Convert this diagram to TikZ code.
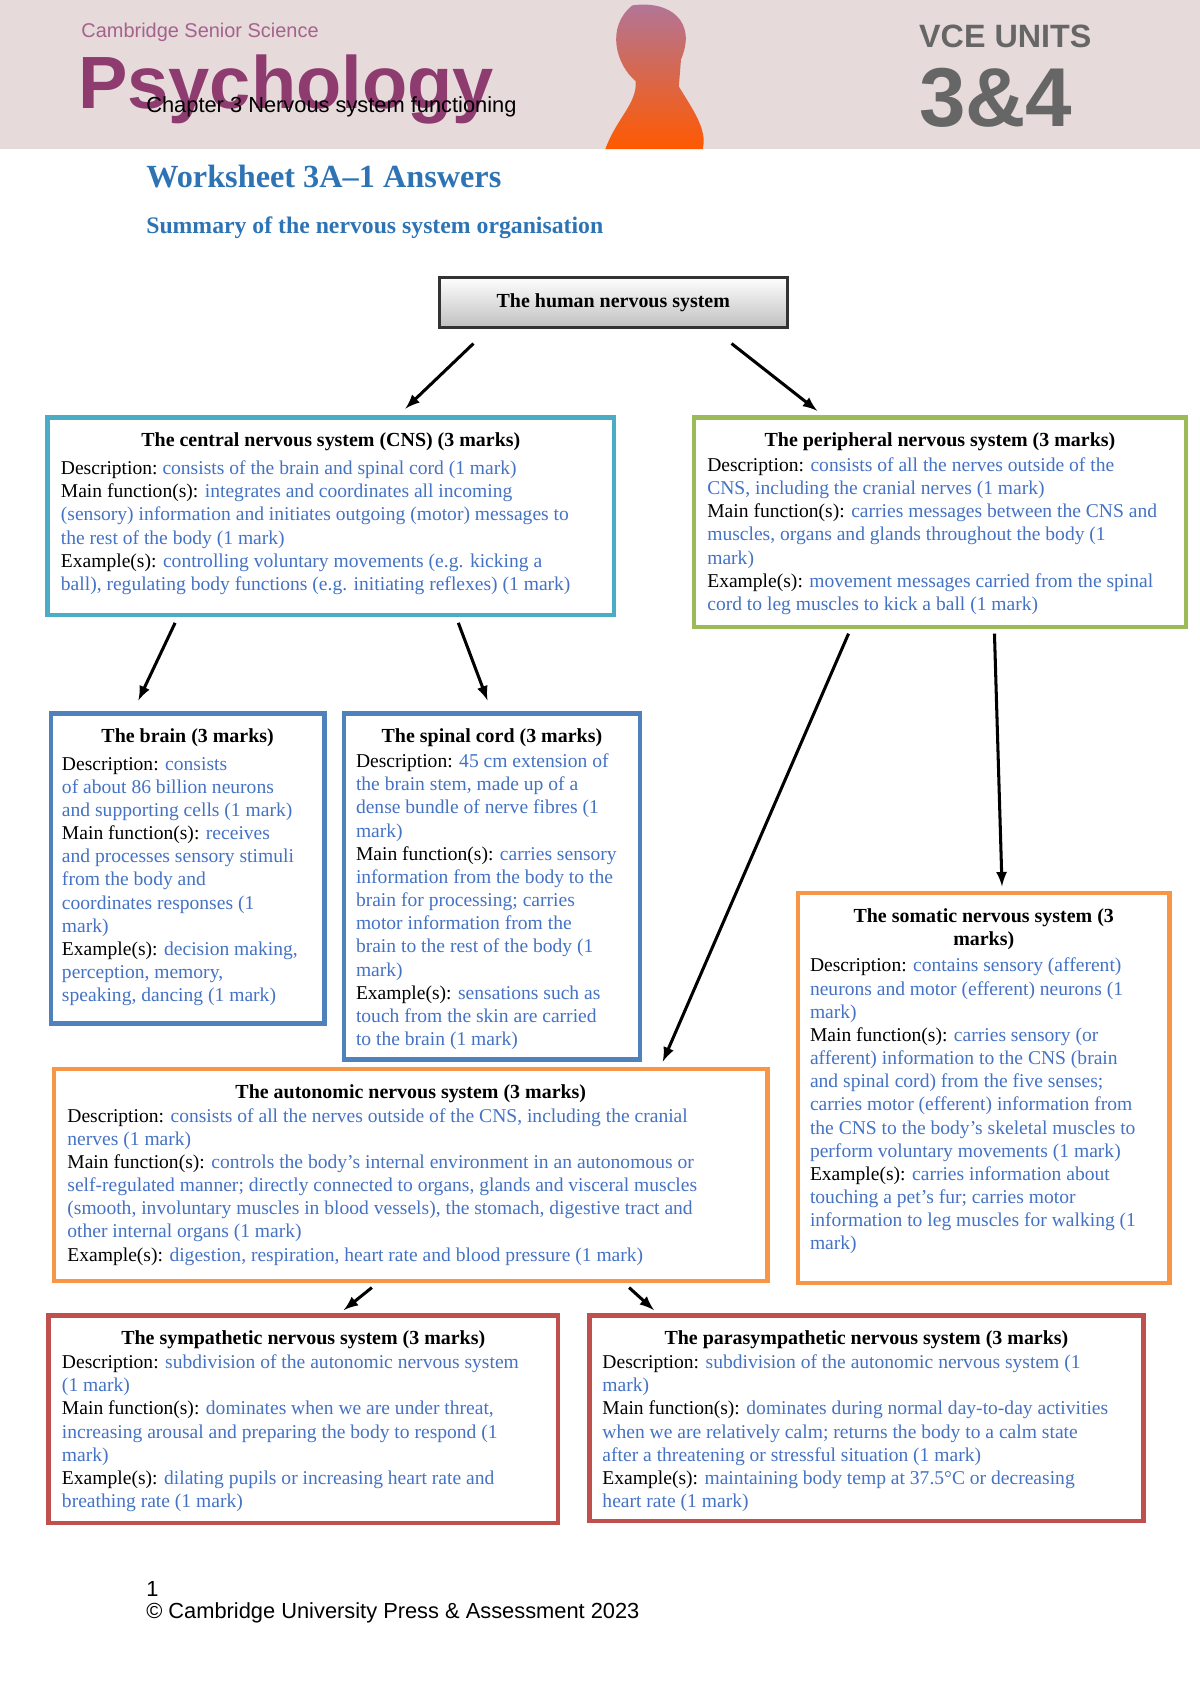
\documentclass[tikz,border=0pt]{standalone}
\usepackage{fontspec}
\setmainfont{Liberation Serif}
\setsansfont{Liberation Sans}
\usetikzlibrary{positioning,calc}
\definecolor{ansblue}{HTML}{4472C4}
\definecolor{headblue}{HTML}{2E74B5}
\definecolor{cnscol}{HTML}{4BACC6}
\definecolor{pnscol}{HTML}{9BBB59}
\definecolor{blucol}{HTML}{4F81BD}
\definecolor{orgcol}{HTML}{F79646}
\definecolor{redcol}{HTML}{C0504D}
\definecolor{psycol}{HTML}{8E3B70}
\newcommand{\ans}[1]{\textcolor{ansblue}{#1}}
\tikzset{
  frame/.style={draw=#1, line width=2.4pt, anchor=north west, inner sep=0pt},
  title/.style={anchor=north, font=\fontsize{10.5}{12.2}\selectfont\bfseries, inner sep=0pt},
  txt/.style={anchor=north west, align=left, inner sep=0pt, font=\fontsize{10.3}{12.2}\selectfont},
  connect/.style={-latex, line width=1.6pt, shorten >=0pt}
}
\begin{document}
\begin{tikzpicture}[x=0.02cm, y=-0.02cm]
      \useasboundingbox (0,0) rectangle (1110,1569);
      % header band
      \fill[black!10!white!95!red] (0,0) rectangle (1110,138);
      \node[anchor=west, font=\sffamily\fontsize{10.5}{12}\selectfont, text=psycol!80, inner sep=0pt] (series) at (75,30) {Cambridge Senior Science};
      \node[anchor=base west, font=\sffamily\bfseries\fontsize{39}{40}\selectfont, text=psycol, inner sep=0pt] (psy) at (72,100) {Psychology};
      \node[anchor=base west, font=\sffamily\fontsize{11.5}{14}\selectfont, inner sep=0pt] (chap) at (135,104) {Chapter 3 Nervous system functioning};
      \shade[top color=psycol!70, bottom color=orange!70!red] (585,5) .. controls (620,0) and (645,20) .. (630,55) -- (628,80) .. controls (640,100) and (655,120) .. (650,138) -- (560,138) .. controls (570,110) and (590,95) .. (588,75) .. controls (570,60) and (560,25) .. cycle;
      \node[anchor=west, font=\sffamily\bfseries\fontsize{17}{20}\selectfont, text=black!60, inner sep=0pt] (vce) at (850,34) {VCE UNITS};
      \node[anchor=base west, font=\sffamily\bfseries\fontsize{44}{46}\selectfont, text=black!60, inner sep=0pt] (units) at (850,117) {3\&4};
      \node[anchor=west, font=\bfseries\fontsize{17}{20}\selectfont, text=headblue, inner sep=0pt] (ws) at (135,163) {Worksheet 3A–1 Answers};
      \node[anchor=west, font=\bfseries\fontsize{12.5}{15}\selectfont, text=headblue, inner sep=0pt] (sum) at (135,211) {Summary of the nervous system organisation};

      % boxes
      \node[draw=black!80, line width=1.6pt, anchor=north west, minimum width=6.44cm, minimum height=0.94cm, top color=white, bottom color=black!25, font=\fontsize{10.5}{12}\selectfont\bfseries] (top) at (405,255) {The human nervous system};
      \node[frame=cnscol, minimum width=10.48cm, minimum height=3.66cm] (cns) at (42,384) {};
      \node[frame=pnscol, minimum width=9.1cm, minimum height=3.88cm] (pns) at (640,384) {};
      \node[frame=blucol, minimum width=5.06cm, minimum height=5.74cm] (brain) at (45,658) {};
      \node[frame=blucol, minimum width=5.48cm, minimum height=6.4cm] (spinal) at (316,658) {};
      \node[frame=orgcol, minimum width=6.88cm, minimum height=7.22cm] (soma) at (736,824) {};
      \node[frame=orgcol, minimum width=13.2cm, minimum height=3.92cm] (auto) at (48,987) {};
      \node[frame=redcol, minimum width=9.42cm, minimum height=3.84cm] (symp) at (43,1215) {};
      \node[frame=redcol, minimum width=10.26cm, minimum height=3.8cm] (para) at (543,1215) {};

      % texts
      \node[title] (cnsT) at ($(cns.north)+(0,16)$) {The central nervous system (CNS) (3 marks)};
      \node[txt] (cnsX) at ($(cns.north west)+(14,42)$) {Description:\ \ans{consists of the brain and spinal cord (1 mark)}\\
        Main function(s): \ans{integrates and coordinates all incoming}\\
        \ans{(sensory) information and initiates outgoing (motor) messages to}\\
        \ans{the rest of the body (1 mark)}\\
        Example(s): \ans{controlling voluntary movements (e.g. kicking a}\\
        \ans{ball), regulating body functions (e.g. initiating reflexes) (1 mark)}};
      \node[title] (pnsT) at ($(pns.north)+(0,16)$) {The peripheral nervous system (3 marks)};
      \node[txt] (pnsX) at ($(pns.north west)+(14,39)$) {Description: \ans{consists of all the nerves outside of the}\\
        \ans{CNS, including the cranial nerves (1 mark)}\\
        Main function(s): \ans{carries messages between the CNS and}\\
        \ans{muscles, organs and glands throughout the body (1}\\
        \ans{mark)}\\
        Example(s): \ans{movement messages carried from the spinal}\\
        \ans{cord to leg muscles to kick a ball (1 mark)}};
      \node[title] (brainT) at ($(brain.north)+(0,16)$) {The brain (3 marks)};
      \node[txt] (brainX) at ($(brain.north west)+(12,42)$) {Description: \ans{consists}\\
        \ans{of about 86 billion neurons}\\
        \ans{and supporting cells (1 mark)}\\
        Main function(s): \ans{receives}\\
        \ans{and processes sensory stimuli}\\
        \ans{from the body and}\\
        \ans{coordinates responses (1}\\
        \ans{mark)}\\
        Example(s): \ans{decision making,}\\
        \ans{perception, memory,}\\
        \ans{speaking, dancing (1 mark)}};
      \node[title] (spinalT) at ($(spinal.north)+(0,16)$) {The spinal cord (3 marks)};
      \node[txt] (spinalX) at ($(spinal.north west)+(13,39)$) {Description: \ans{45 cm extension of}\\
        \ans{the brain stem, made up of a}\\
        \ans{dense bundle of nerve fibres (1}\\
        \ans{mark)}\\
        Main function(s): \ans{carries sensory}\\
        \ans{information from the body to the}\\
        \ans{brain for processing; carries}\\
        \ans{motor information from the}\\
        \ans{brain to the rest of the body (1}\\
        \ans{mark)}\\
        Example(s): \ans{sensations such as}\\
        \ans{touch from the skin are carried}\\
        \ans{to the brain (1 mark)}};
      \node[title, align=center] (somaT) at ($(soma.north)+(0,16)$) {The somatic nervous system (3\\marks)};
      \node[txt] (somaX) at ($(soma.north west)+(13,62)$) {Description: \ans{contains sensory (afferent)}\\
        \ans{neurons and motor (efferent) neurons (1}\\
        \ans{mark)}\\
        Main function(s): \ans{carries sensory (or}\\
        \ans{afferent) information to the CNS (brain}\\
        \ans{and spinal cord) from the five senses;}\\
        \ans{carries motor (efferent) information from}\\
        \ans{the CNS to the body’s skeletal muscles to}\\
        \ans{perform voluntary movements (1 mark)}\\
        Example(s): \ans{carries information about}\\
        \ans{touching a pet’s fur; carries motor}\\
        \ans{information to leg muscles for walking (1}\\
        \ans{mark)}};
      \node[title] (autoT) at ($(auto.north)+(0,16)$) {The autonomic nervous system (3 marks)};
      \node[txt] (autoX) at ($(auto.north west)+(14,38)$) {Description: \ans{consists of all the nerves outside of the CNS, including the cranial}\\
        \ans{nerves (1 mark)}\\
        Main function(s): \ans{controls the body’s internal environment in an autonomous or}\\
        \ans{self-regulated manner; directly connected to organs, glands and visceral muscles}\\
        \ans{(smooth, involuntary muscles in blood vessels), the stomach, digestive tract and}\\
        \ans{other internal organs (1 mark)}\\
        Example(s): \ans{digestion, respiration, heart rate and blood pressure (1 mark)}};
      \node[title] (sympT) at ($(symp.north)+(0,16)$) {The sympathetic nervous system (3 marks)};
      \node[txt] (sympX) at ($(symp.north west)+(14,38)$) {Description: \ans{subdivision of the autonomic nervous system}\\
        \ans{(1 mark)}\\
        Main function(s): \ans{dominates when we are under threat,}\\
        \ans{increasing arousal and preparing the body to respond (1}\\
        \ans{mark)}\\
        Example(s): \ans{dilating pupils or increasing heart rate and}\\
        \ans{breathing rate (1 mark)}};
      \node[title] (paraT) at ($(para.north)+(0,16)$) {The parasympathetic nervous system (3 marks)};
      \node[txt] (paraX) at ($(para.north west)+(14,38)$) {Description: \ans{subdivision of the autonomic nervous system (1}\\
        \ans{mark)}\\
        Main function(s): \ans{dominates during normal day-to-day activities}\\
        \ans{when we are relatively calm; returns the body to a calm state}\\
        \ans{after a threatening or stressful situation (1 mark)}\\
        Example(s): \ans{maintaining body temp at 37.5°C or decreasing}\\
        \ans{heart rate (1 mark)}};

      % arrows
      \draw[connect] ($(top.south west)+(33,13)$) -- ($(cns.north)+(69,-6)$);
      \draw[connect] ($(top.south east)+(-53,13)$) -- ($(pns.north west)+(116,-4)$);
      \draw[connect] ($(cns.south west)+(120,5)$) -- ($(brain.north west)+(83,-10)$);
      \draw[connect] ($(cns.south west)+(382,5)$) -- ($(spinal.north west)+(135,-10)$);
      \draw[connect] ($(pns.south west)+(145,4)$) -- ($(spinal.south east)+(19,0)$);
      \draw[connect] ($(pns.south west)+(280,4)$) -- ($(soma.north west)+(191,-4)$);
      \draw[connect] ($(auto.south west)+(296,4)$) -- ($(symp.north west)+(275,-3)$);
      \draw[connect] ($(auto.south west)+(534,4)$) -- ($(para.north west)+(62,-3)$);

      % footer
      \node[anchor=west, font=\sffamily\fontsize{11.5}{14}\selectfont, inner sep=0pt] (page) at (135,1470) {1};
      \node[anchor=west, font=\sffamily\fontsize{11.5}{14}\selectfont, inner sep=0pt] (copy) at (135,1492) {© Cambridge University Press \& Assessment 2023};
\end{tikzpicture}
\end{document}
